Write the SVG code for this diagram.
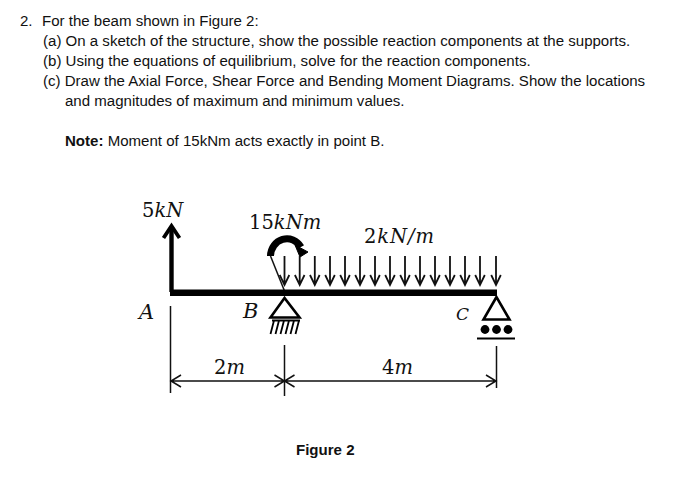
<svg xmlns="http://www.w3.org/2000/svg" width="684" height="504" viewBox="0 0 684 504">
<style>
.t{font-family:"Liberation Sans",Arial,sans-serif;font-size:15.05px;fill:#111}
.b{font-weight:bold}
.m{font-family:"DejaVu Serif","Liberation Serif",serif;font-size:19.5px;fill:#111}
.i{font-style:italic}
.l{stroke:#111;stroke-width:1.5;fill:none}
.h{stroke:#111;stroke-width:1.8;fill:none}
.s{stroke:#000;stroke-width:2.6;fill:#fff}
</style>
<defs>
<g id="da"><path class="h" d="M0 0V29M-4.800 19L0 29L4.800 19"/></g>
</defs>
<rect width="684" height="504" fill="#fff"/>
<g id="question">
<text class="t" x="20" y="26">2.</text><text class="t" x="42" y="26">For the beam shown in Figure 2:</text>
<text class="t" x="43" y="46">(a) On a sketch of the structure, show the possible reaction components at the supports.</text>
<text class="t" x="43" y="66">(b) Using the equations of equilibrium, solve for the reaction components.</text>
<text class="t" x="43" y="86">(c) Draw the Axial Force, Shear Force and Bending Moment Diagrams. Show the locations</text>
<text class="t" x="65" y="106">and magnitudes of maximum and minimum values.</text>
<text class="t" x="65" y="146"><tspan class="b">Note:</tspan> Moment of 15kNm acts exactly in point B.</text>
<text class="t b" x="296" y="455">Figure 2</text>
</g>
<g id="connectors">
<path class="l" d="M170.500 306V393M284.500 345V396M496.500 346V388"/>
<path class="l" d="M171 381H496M181 375L171 381L181 387M274.500 375L284.500 381L274.500 387M294.500 375L284.500 381L294.500 387M486 375L496 381L486 387"/>
<path d="M171.500 292V229" stroke="#000" stroke-width="4.400" fill="none"/>
<path d="M163.500 238L171.500 226L179.500 238" stroke="#000" stroke-width="3.800" fill="none"/>
<path class="l" d="M270.500 256L284.500 291"/>
<path d="M270.500 256A16.500 17.500 0 0 1 301 247" stroke="#000" stroke-width="7" fill="none"/>
<path d="M295 245L308 252L300 257Z" fill="#000" stroke="#000"/>
<use href="#da" x="284.500" y="256"/><use href="#da" x="299.700" y="256"/><use href="#da" x="314.800" y="256"/>
<use href="#da" x="330" y="256"/><use href="#da" x="345" y="256"/><use href="#da" x="360" y="256"/>
<use href="#da" x="375" y="256"/><use href="#da" x="390" y="256"/><use href="#da" x="405" y="256"/>
<use href="#da" x="420" y="256"/><use href="#da" x="435" y="256"/><use href="#da" x="450" y="256"/>
<use href="#da" x="465" y="256"/><use href="#da" x="480" y="256"/><use href="#da" x="496" y="256"/>
</g>
<g id="beam"><rect x="170" y="289.500" width="327" height="6.500" fill="#000"/></g>
<g id="support-b">
<path class="s" d="M284.500 298L270.500 317.500H299.500Z"/>
<path stroke="#000" stroke-width="1.800" fill="none" d="M272 320.500H300M274 320.500L270.500 334M279 320.500L275.500 334M284 320.500L280.500 334M289 320.500L285.500 334M294 320.500L290.500 334M299 320.500L295.500 334"/>
</g>
<g id="support-c">
<path class="s" d="M496.500 297L483.500 319.500H509.500Z"/>
<circle cx="485" cy="329.500" r="4.400" fill="#000"/><circle cx="496.500" cy="329.500" r="4.400" fill="#000"/><circle cx="508" cy="329.500" r="4.400" fill="#000"/>
<path d="M477 338.500H515" stroke="#000" stroke-width="2"/>
</g>
<g id="labels">
<text class="m" x="142" y="217">5<tspan class="i">kN</tspan></text>
<text class="m" x="249" y="229">15<tspan class="i">kNm</tspan></text>
<text class="m" x="364" y="243" letter-spacing="0.900">2<tspan class="i">kN/m</tspan></text>
<text class="m i" x="139" y="319" style="font-size:21px">A</text>
<text class="m i" x="243" y="318" style="font-size:21px">B</text>
<text class="m i" x="456" y="320" style="font-size:17px">C</text>
<text class="m" x="214" y="374">2<tspan class="i">m</tspan></text>
<text class="m" x="382" y="374">4<tspan class="i">m</tspan></text>
</g>
</svg>
